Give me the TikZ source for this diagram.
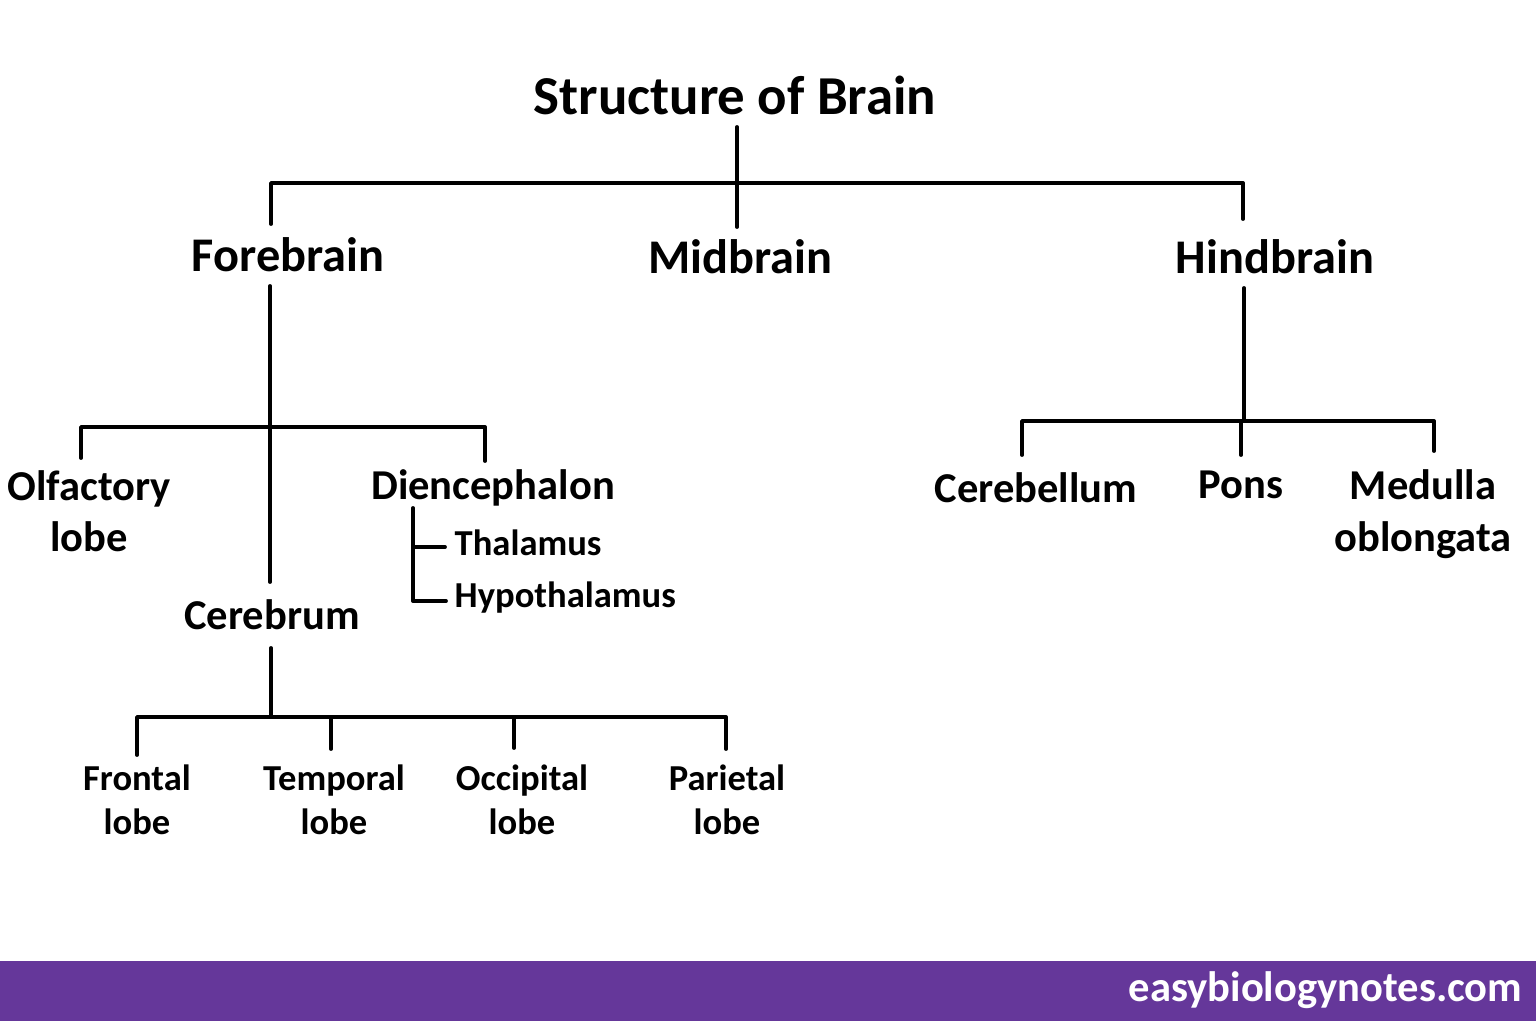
\documentclass[tikz,border=0pt]{standalone}
\usepackage{fontspec}
\setmainfont{Carlito}
\definecolor{bannerpurple}{RGB}{101,55,154}
\tikzset{
	title/.style = {font=\bfseries\fontsize{15.6}{15.6}\selectfont, inner sep=0pt},
	major/.style = {font=\bfseries\fontsize{13.75}{13.75}\selectfont, inner sep=0pt},
	minor/.style = {font=\bfseries\fontsize{12.1}{14.6}\selectfont, inner sep=0pt, align=center},
	small/.style = {font=\bfseries\fontsize{10.4}{12.5}\selectfont, inner sep=0pt, align=center},
	branch/.style = {line width=1.1pt, black, line cap=round, line join=round}
}
\begin{document}
\begin{tikzpicture}[x=0.01cm, y=-0.01cm]
	\useasboundingbox (0,0) rectangle (1536,1021);
	\fill[bannerpurple] (0,961) rectangle (1536,1021);
	\node[anchor=east, text=white, font=\bfseries\fontsize{12.1}{12.1}\selectfont, inner sep=0pt] (site) at (1523,990) {easybiologynotes.com};

	% titles
	\node[title] (brain) at (735,95) {Structure of Brain};
	\node[major] (fore) at (288,255) {Forebrain};
	\node[major] (mid) at (740,257) {Midbrain};
	\node[major] (hind) at (1275,257) {Hindbrain};

	% forebrain side
	\node[minor] (olf) at (89,511) {Olfactory\\lobe};
	\node[minor] (dien) at (493,488) {Diencephalon};
	\node[small, anchor=west] (thal) at (454,543) {Thalamus};
	\node[small, anchor=west] (hypo) at (454,598) {Hypothalamus};
	\node[minor] (cere) at (272,615) {Cerebrum};
	\node[small] (front) at (137,800) {Frontal\\lobe};
	\node[small] (temp) at (334,800) {Temporal\\lobe};
	\node[small] (occ) at (522,800) {Occipital\\lobe};
	\node[small] (par) at (727,800) {Parietal\\lobe};

	% hindbrain side
	\node[minor] (cbl) at (1036,488) {Cerebellum};
	\node[minor] (pons) at (1241,485) {Pons};
	\node[minor] (med) at (1423,514) {Medulla\\oblongata};

	% top level
	\coordinate (t0) at (737,127);
	\coordinate (t1) at (271,183);
	\coordinate (t3) at (1243,183);
	\coordinate (tf) at (271,224);
	\coordinate (tm) at (737,227);
	\coordinate (th) at (1243,219);
	\draw[branch] (t0) -- (tm);
	\draw[branch] (tf) -- (t1) -- (t3) -- (th);

	% forebrain
	\coordinate (f0) at (270,286);
	\coordinate (fe) at (270,582);
	\coordinate (f1) at (81,427);
	\coordinate (f3) at (485,427);
	\coordinate (fo) at (81,458);
	\coordinate (fd) at (485,461);
	\draw[branch] (f0) -- (fe);
	\draw[branch] (fo) -- (f1) -- (f3) -- (fd);

	% diencephalon
	\coordinate (d0) at (413,508);
	\coordinate (d1) at (413,547);
	\coordinate (d2) at (413,601);
	\coordinate (d3) at (445,547);
	\coordinate (d4) at (446,601);
	\draw[branch] (d0) -- (d2) -- (d4);
	\draw[branch] (d1) -- (d3);

	% cerebrum
	\coordinate (c0) at (271,648);
	\coordinate (cj) at (271,717);
	\coordinate (c1) at (137,717);
	\coordinate (c2) at (331,717);
	\coordinate (c3) at (514,717);
	\coordinate (c4) at (726,717);
	\coordinate (cf) at (137,755);
	\coordinate (ct) at (331,749);
	\coordinate (co) at (514,748);
	\coordinate (cp) at (726,749);
	\draw[branch] (c0) -- (cj);
	\draw[branch] (cf) -- (c1) -- (c4) -- (cp);
	\draw[branch] (c2) -- (ct);
	\draw[branch] (c3) -- (co);

	% hindbrain
	\coordinate (h0) at (1244,288);
	\coordinate (hj) at (1244,421);
	\coordinate (h1) at (1022,421);
	\coordinate (h2) at (1241,421);
	\coordinate (h3) at (1434,421);
	\coordinate (hc) at (1022,455);
	\coordinate (hp) at (1241,455);
	\coordinate (hm) at (1434,451);
	\draw[branch] (h0) -- (hj);
	\draw[branch] (hc) -- (h1) -- (h3) -- (hm);
	\draw[branch] (h2) -- (hp);
\end{tikzpicture}
\end{document}
